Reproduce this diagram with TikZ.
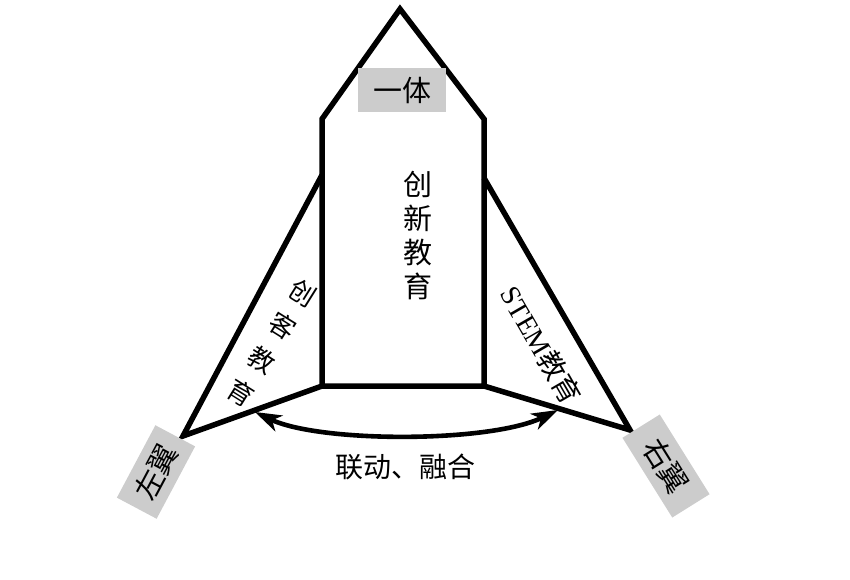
\documentclass[tikz,border=0pt]{standalone}
\usepackage{fontspec}
\newfontfamily\cjk{Noto Sans CJK SC}
\newfontfamily\ser{Liberation Serif}
\usetikzlibrary{calc}
\begin{document}
\begin{tikzpicture}[x=1pt,y=-1pt,
  shape line/.style={line width=5.5pt,line join=miter},
  graybox/.style={fill=gray!40,inner sep=0pt,font=\cjk\fontsize{29}{29}\selectfont},
  label text/.style={inner sep=0pt,align=center},
  tiphead/.style={fill=black,draw=none}]
\useasboundingbox (0,0) rectangle (850,579);
% key points
\coordinate (apex) at (400,9);
\coordinate (ls) at (322,119);
\coordinate (rs) at (484,119);
\coordinate (lb) at (322,386);
\coordinate (rb) at (484,386);
\coordinate (lw) at (322,175);
\coordinate (rw) at (484,178);
\coordinate (lt) at (183,436);
\coordinate (rt) at (630,430);
% wings
\draw[shape line] (lw) -- (lt) -- (lb);
\draw[shape line] (rw) -- (rt) -- (rb);
% body with nose
\draw[shape line] (lb) -- (ls) -- (apex) -- (rs) -- (rb) -- cycle;
% arrow (curve plus filled heads)
\coordinate (al) at (255,412);
\coordinate (ar) at (558,410);
\draw[line width=4.6pt,shorten <=17pt,shorten >=17pt]
  (al) .. controls (320,443) and (490,443) .. (ar);
\fill[tiphead] (al) -- ($(al)+(20.5,19.7)$) -- ($(al)+(17.1,8.2)$) -- ($(al)+(28.2,3.5)$) -- cycle;
\fill[tiphead] (ar) -- ($(ar)+(-20.3,19.9)$) -- ($(ar)+(-17.1,8.3)$) -- ($(ar)+(-28.2,3.7)$) -- cycle;
% labels
\node[graybox,minimum width=88pt,minimum height=44pt] (yiti) at (402,90) {一体};
\node[label text,font=\cjk\fontsize{29}{34}\selectfont] (cxjy) at (418,236) {创\\新\\教\\育};
\node[label text,font=\cjk\fontsize{26}{39}\selectfont,rotate=-32] (ckjy) at (272,343) {创\\客\\教\\育};
\node[label text,font=\fontsize{28}{28}\selectfont,rotate=-60] (stem) at (541,345) {\ser STEM\cjk 教育};
\node[label text,font=\cjk\fontsize{28}{28}\selectfont] (ldrh) at (405,467) {联动、融合};
\node[graybox,minimum width=82pt,minimum height=45pt,rotate=62] (zy) at (156,472) {左翼};
\node[graybox,minimum width=94pt,minimum height=44pt,rotate=-58] (yy) at (666,466) {右翼};
\end{tikzpicture}
\end{document}
